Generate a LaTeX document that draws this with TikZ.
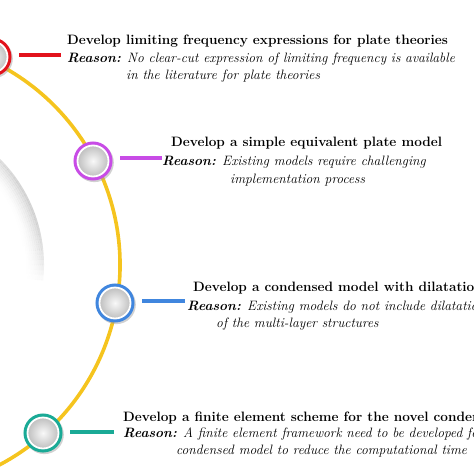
\documentclass[tikz,border=0pt]{standalone}
\usepackage{xcolor,tikz}
\usetikzlibrary{calc}
\definecolor{goalred}{RGB}{226,18,28}
\definecolor{goalpurple}{RGB}{200,76,230}
\definecolor{goalblue}{RGB}{64,134,222}
\definecolor{goalteal}{RGB}{26,170,150}
\definecolor{trackyellow}{RGB}{245,196,30}
\tikzset{mk/.style={circle,minimum size=31pt,inner sep=0pt,draw=white,line width=1.8pt,
 inner color=gray!5,outer color=gray!50,
 preaction={draw=black!40,line width=8pt,opacity=.45,transform canvas={shift={(1.3pt,-1.6pt)}}},
 preaction={draw=#1,line width=8pt}},
 link/.style={draw=#1,line width=3.4pt,shorten <=11pt},
 track/.style={draw=trackyellow,line width=3.6pt},
 ttl/.style={anchor=base west,inner sep=0pt,font=\fontsize{13.6}{16}\selectfont\bfseries},
 rsn/.style={anchor=base west,inner sep=0pt,font=\fontsize{13.6}{16}\selectfont\itshape}}
\newcommand{\rlabel}{\textbf{Reason:}}
\begin{document}
\begin{tikzpicture}[x=1pt,y=-1pt]
\useasboundingbox (0,0) rectangle (474,474);
\clip (0,0) rectangle (474,474);
\coordinate (ctr) at (-106,265);
% soft shadow of the inner disc
\foreach \a in {-60,-58,...,10}
 \foreach \r in {131,133,...,149} {
  \pgfmathsetmacro\fa{max(0,ifthenelse(\a<-24,1-((\a+24)/44)^2,1-((\a+24)/30)^2))}
  \pgfmathsetmacro\o{0.16*\fa*((\r-129)/20)^1.8}
  \draw[black,line width=2.05pt,opacity=\o] (ctr) ++(\a:\r) arc[start angle=\a,end angle=\a+2,radius=\r];
 }
% yellow track
\draw[track] (ctr) ++(-75:226) arc[start angle=-75,end angle=75,radius=226];
% markers
\node[mk=goalred] (m1) at (-8,57) {};
\node[mk=goalpurple] (m2) at (93,161) {};
\node[mk=goalblue] (m3) at (115,303) {};
\node[mk=goalteal] (m4) at (43,433) {};
% objectives
\node[ttl] (t1) at (67,44) {Develop limiting frequency expressions for plate theories};
\node[rsn] (r1) at (67,62) {\rlabel{} No clear-cut expression of limiting frequency is available};
\node[rsn] (d1) at (126,79) {in the literature for plate theories};
\node[ttl] (t2) at (171,146) {Develop a simple equivalent plate model};
\node[rsn] (r2) at (162,165) {\rlabel{} Existing models require challenging};
\node[rsn] (d2) at (230,183) {implementation process};
\node[ttl] (t3) at (193,291) {Develop a condensed model with dilatation};
\node[rsn] (r3) at (187,310) {\rlabel{} Existing models do not include dilatation};
\node[rsn] (d3) at (216,327) {of the multi-layer structures};
\node[ttl] (t4) at (123,421) {Develop a finite element scheme for the novel condensed};
\node[rsn] (r4) at (123,437) {\rlabel{} A finite element framework need to be developed for};
\node[rsn] (d4) at (176,454) {condensed model to reduce the computational time};
% connectors
\draw[link=goalred,shorten >=6pt] ([yshift=2pt]m1.east) -- ([yshift=2pt]m1.east -| r1.west);
\draw[link=goalpurple,shorten >=0pt] ([yshift=3pt]m2.east) -- ([yshift=3pt]m2.east -| r2.west);
\draw[link=goalblue,shorten >=2pt] ([yshift=2pt]m3.east) -- ([yshift=2pt]m3.east -| r3.west);
\draw[link=goalteal,shorten >=9pt] ([yshift=1pt]m4.east) -- ([yshift=1pt]m4.east -| r4.west);
\end{tikzpicture}
\end{document}
